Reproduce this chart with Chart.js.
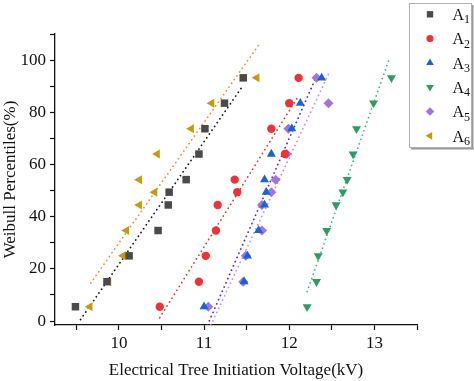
<!DOCTYPE html>
<html>
<head>
<meta charset="utf-8">
<script src="https://cdn.jsdelivr.net/npm/chart.js@4/dist/chart.umd.min.js"></script>
<style>
  html, body { margin: 0; padding: 0; background: #ffffff; }
  #wrap { width: 474px; height: 381px; position: relative; }
</style>
</head>
<body>
<div id="wrap"><canvas id="c" width="474" height="381"></canvas></div>
<script>
// ---- data ----
const percentiles = [5.5, 15.1, 25.0, 34.7, 44.5, 49.4, 54.2, 64.0, 73.7, 83.5, 93.2];
const seriesLabels = ['A₁', 'A₂', 'A₃', 'A₄', 'A₅', 'A₆'];
const voltA1 = [9.49, 9.86, 10.12, 10.46, 10.58, 10.59, 10.79, 10.94, 11.01, 11.24, 11.46];
const voltA2 = [10.48, 10.94, 11.02, 11.14, 11.16, 11.39, 11.36, 11.95, 11.79, 12.00, 12.11];
const voltA3 = [11.00, 11.47, 11.51, 11.64, 11.71, 11.73, 11.71, 11.79, 12.03, 12.13, 12.38];
const voltA4 = [12.21, 12.32, 12.34, 12.44, 12.55, 12.63, 12.68, 12.75, 12.79, 12.99, 13.20];
const voltA5 = [11.05, 11.46, 11.49, 11.68, 11.68, 11.79, 11.84, 11.97, 11.99, 12.46, 12.32];
const voltA6 = [9.66, 9.88, 10.05, 10.09, 10.24, 10.42, 10.24, 10.45, 10.85, 11.09, 11.62];
// fitted-line end points (x = kV, y = %)
const fitA1X = [9.55, 11.45],  fitA1Y = [0.6, 89.9];
const fitA2X = [10.48, 12.09], fitA2Y = [1.3, 85.3];
const fitA3X = [11.04, 12.34], fitA3Y = [-1.5, 95.3];
const fitA4X = [12.21, 13.18], fitA4Y = [11.3, 101.0];
const fitA5X = [11.08, 12.46], fitA5Y = [-1.5, 94.6];
const fitA6X = [9.67, 11.65],  fitA6Y = [14.6, 106.2];
const xTickValues = [9.5, 10, 10.5, 11, 11.5, 12, 12.5, 13, 13.5];
const yTickValues = [0, 10, 20, 30, 40, 50, 60, 70, 80, 90, 100, 110];

// ---- styles ----
const FONT = "'Liberation Serif', 'Times New Roman', serif";
const pointColors = ['#4a4a4a', '#ee3338', '#1a62d6', '#2e9d63', '#a274e0', '#c99a0e'];
const fitColors   = ['#111111', '#e5322f', '#5a22d2', '#3db88a', '#c68cf2', '#f08a2a'];
const pointStyles = ['rect', 'circle', 'triangle', 'triangle', 'rectRot', 'triangle'];
const rotations   = [0, 0, 0, 180, 0, 270];
const radii       = [5.3, 4.2, 5.2, 5.2, 5, 5.2];

const volts = [voltA1, voltA2, voltA3, voltA4, voltA5, voltA6];
const fits = [[fitA1X, fitA1Y], [fitA2X, fitA2Y], [fitA3X, fitA3Y], [fitA4X, fitA4Y], [fitA5X, fitA5Y], [fitA6X, fitA6Y]];

const datasets = [];
volts.forEach((v, i) => {
  datasets.push({
    label: seriesLabels[i],
    data: v.map((x, k) => ({ x: x, y: percentiles[k] })),
    pointStyle: pointStyles[i],
    rotation: rotations[i],
    pointRadius: radii[i],
    pointHoverRadius: radii[i],
    backgroundColor: pointColors[i],
    borderColor: pointColors[i],
    pointBorderWidth: 0,
    showLine: false,
    order: 1
  });
});
fits.forEach((f, i) => {
  datasets.push({
    label: 'fit ' + seriesLabels[i],
    data: f[0].map((x, k) => ({ x: x, y: f[1][k] })),
    showLine: true,
    pointRadius: 0,
    borderColor: fitColors[i],
    borderWidth: 1.8,
    borderDash: [0.01, 4.6],
    borderCapStyle: 'round',
    fill: false,
    order: 2
  });
});

const legendPlugin = {
  id: 'boxLegend',
  afterDraw(chart) {
    const ctx = chart.ctx;
    ctx.save();
    // shadow
    ctx.fillStyle = '#9a9a9a';
    ctx.fillRect(411, 147.5, 62.5, 2);
    ctx.fillRect(471.5, 5, 2, 144.5);
    // box
    ctx.fillStyle = '#ffffff';
    ctx.fillRect(409.5, 3.5, 62, 144);
    ctx.strokeStyle = '#b0b0b0';
    ctx.lineWidth = 1;
    ctx.strokeRect(409.5, 3.5, 62, 144);
    const subMap = { '₁': '1', '₂': '2', '₃': '3', '₄': '4', '₅': '5', '₆': '6' };
    seriesLabels.forEach((lab, i) => {
      const y = 14.3 + i * 24.3;
      ctx.fillStyle = pointColors[i];
      Chart.helpers.drawPoint(ctx, {
        pointStyle: pointStyles[i], rotation: rotations[i],
        radius: radii[i] * 0.85, borderWidth: 0
      }, 430, y);
      ctx.fillStyle = '#111111';
      ctx.textAlign = 'left';
      ctx.textBaseline = 'alphabetic';
      ctx.font = '16px ' + FONT;
      const base = lab.charAt(0);
      ctx.fillText(base, 452.5, y + 5.8);
      const w = ctx.measureText(base).width;
      ctx.font = '12px ' + FONT;
      ctx.fillText(subMap[lab.charAt(1)] || lab.charAt(1), 452.5 + w, y + 9);
    });
    ctx.restore();
  }
};

new Chart(document.getElementById('c'), {
  type: 'scatter',
  data: { datasets: datasets },
  plugins: [legendPlugin],
  options: {
    responsive: false,
    animation: false,
    layout: { padding: { left: 0, right: 57, top: 34, bottom: 0 } },
    plugins: {
      legend: { display: false },
      tooltip: { enabled: false }
    },
    scales: {
      x: {
        type: 'linear',
        min: 9.25, max: 13.5,
        afterBuildTicks: (s) => { s.ticks = xTickValues.map(v => ({ value: v })); },
        afterFit: (s) => { s.height = 56; },
        grid: { drawOnChartArea: false, drawTicks: true, tickLength: 5, tickColor: '#111', tickWidth: 1.2 },
        border: { display: true, color: '#111', width: 1.3 },
        ticks: {
          color: '#111', padding: 3, maxRotation: 0, autoSkip: false,
          font: { family: FONT, size: 17 },
          callback: (v) => Number.isInteger(v) ? String(v) : ''
        },
        title: {
          display: true, text: 'Electrical Tree Initiation Voltage(kV)', color: '#111',
          font: { family: FONT, size: 17 }, padding: { top: 0, bottom: 0 }
        }
      },
      y: {
        type: 'linear',
        min: -1.5, max: 110,
        afterBuildTicks: (s) => { s.ticks = yTickValues.map(v => ({ value: v })); },
        afterFit: (s) => { s.width = 55; },
        grid: { drawOnChartArea: false, drawTicks: true, tickLength: 5, tickColor: '#111', tickWidth: 1.2 },
        border: { display: true, color: '#111', width: 1.3 },
        ticks: {
          color: '#111', padding: 4, autoSkip: false,
          font: { family: FONT, size: 17 },
          callback: (v) => (v % 20 === 0 && v <= 100) ? String(v) : ''
        },
        title: {
          display: true, text: 'Weibull Percentiles(%)', color: '#111',
          font: { family: FONT, size: 17 }, padding: { top: 0, bottom: 0 }
        }
      }
    }
  }
});
</script>
</body>
</html>
